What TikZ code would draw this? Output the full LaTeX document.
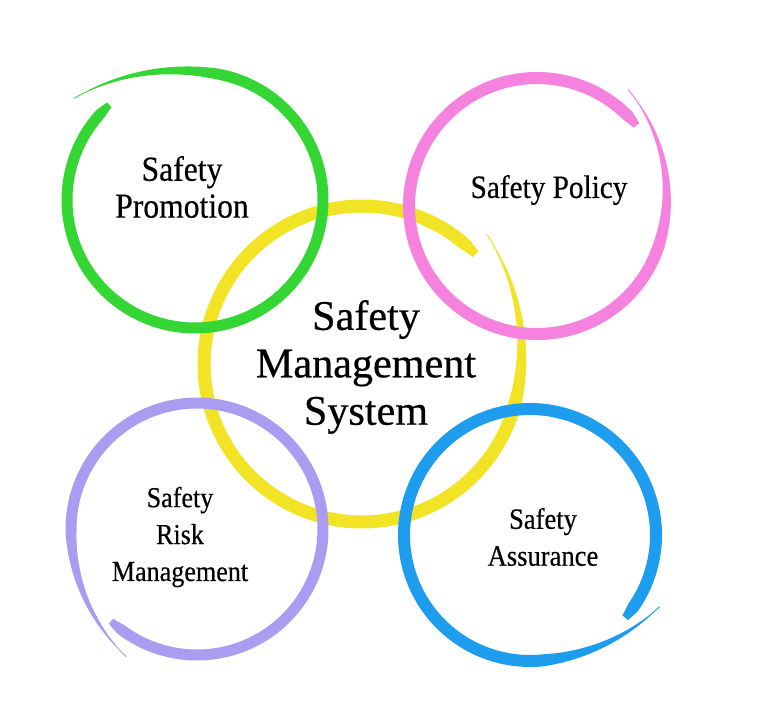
\documentclass[tikz,border=0pt]{standalone}
\usepackage{fontspec}
\setmainfont{Liberation Serif}[FakeBold=0.5]
\newfontfamily\labelfont[FakeStretch=0.9,FakeBold=0.4]{Liberation Serif}

\definecolor{ringyellow}{RGB}{242,228,36}
\definecolor{ringgreen}{RGB}{52,214,52}
\definecolor{ringpink}{RGB}{245,130,222}
\definecolor{ringpurple}{RGB}{170,156,240}
\definecolor{ringblue}{RGB}{30,156,238}

\tikzset{
  declare function={
    rw(\s)=\ringW*min(1,max(0.08,(\ringL-\s)/\ringTail))*min(1,0.6+\s/15);
    rg(\s)=\ringGrow*(max(0,\s-\ringL+\ringTail)/\ringTail)^2;
  },
  title/.style={align=center, font=\fontsize{24}{27}\selectfont},
  part/.style={align=center, font=\labelfont\fontsize{#1}{21}\selectfont},
  part/.default=16.5
}

% brush ring: colour, cx, cy, radius, start angle, sweep, tail, growth, width
\newcommand{\brushring}[9]{%
  \def\ringL{#6}\def\ringTail{#7}\def\ringGrow{#8}\def\ringW{#9}%
  \fill[#1] plot[domain=0:#6, samples=200, variable=\x]
      ({#2+(#4+rg(\x)+rw(\x)/2)*cos(#5-\x)}, {#3+(#4+rg(\x)+rw(\x)/2)*sin(#5-\x)})
    -- plot[domain=#6:0, samples=200, variable=\x]
      ({#2+(#4+rg(\x)-rw(\x)/2)*cos(#5-\x)}, {#3+(#4+rg(\x)-rw(\x)/2)*sin(#5-\x)})
    -- cycle;
}

\begin{document}
\begin{tikzpicture}[x=0.02cm, y=-0.02cm]
    \fill[white] (0,0) rectangle (768,720);
    \useasboundingbox (0,0) rectangle (768,720);

    % rings
    \brushring{ringyellow}{362}{364}{158}{316}{362}{60}{22}{13}
    \brushring{ringgreen}{195}{200}{128}{228}{368}{60}{30}{11}
    \brushring{ringpink}{537}{206}{128}{321}{373}{70}{20}{12}
    \brushring{ringpurple}{197}{529}{126}{133}{374}{60}{20}{11}
    \brushring{ringblue}{530}{535}{126}{41}{372}{55}{22}{12}

    % labels
    \node[title] (sms) at (366,367) {Safety\\Management\\System};
    \node[part=20] (promotion) at (182,187) {Safety\\Promotion};
    \node[part=18.5] (policy) at (549,190) {Safety Policy};
    \node[part] (risk) at (180,537) {Safety\\Risk\\Management};
    \node[part=16.8] (assurance) at (543,537) {Safety\\Assurance};
\end{tikzpicture}
\end{document}
